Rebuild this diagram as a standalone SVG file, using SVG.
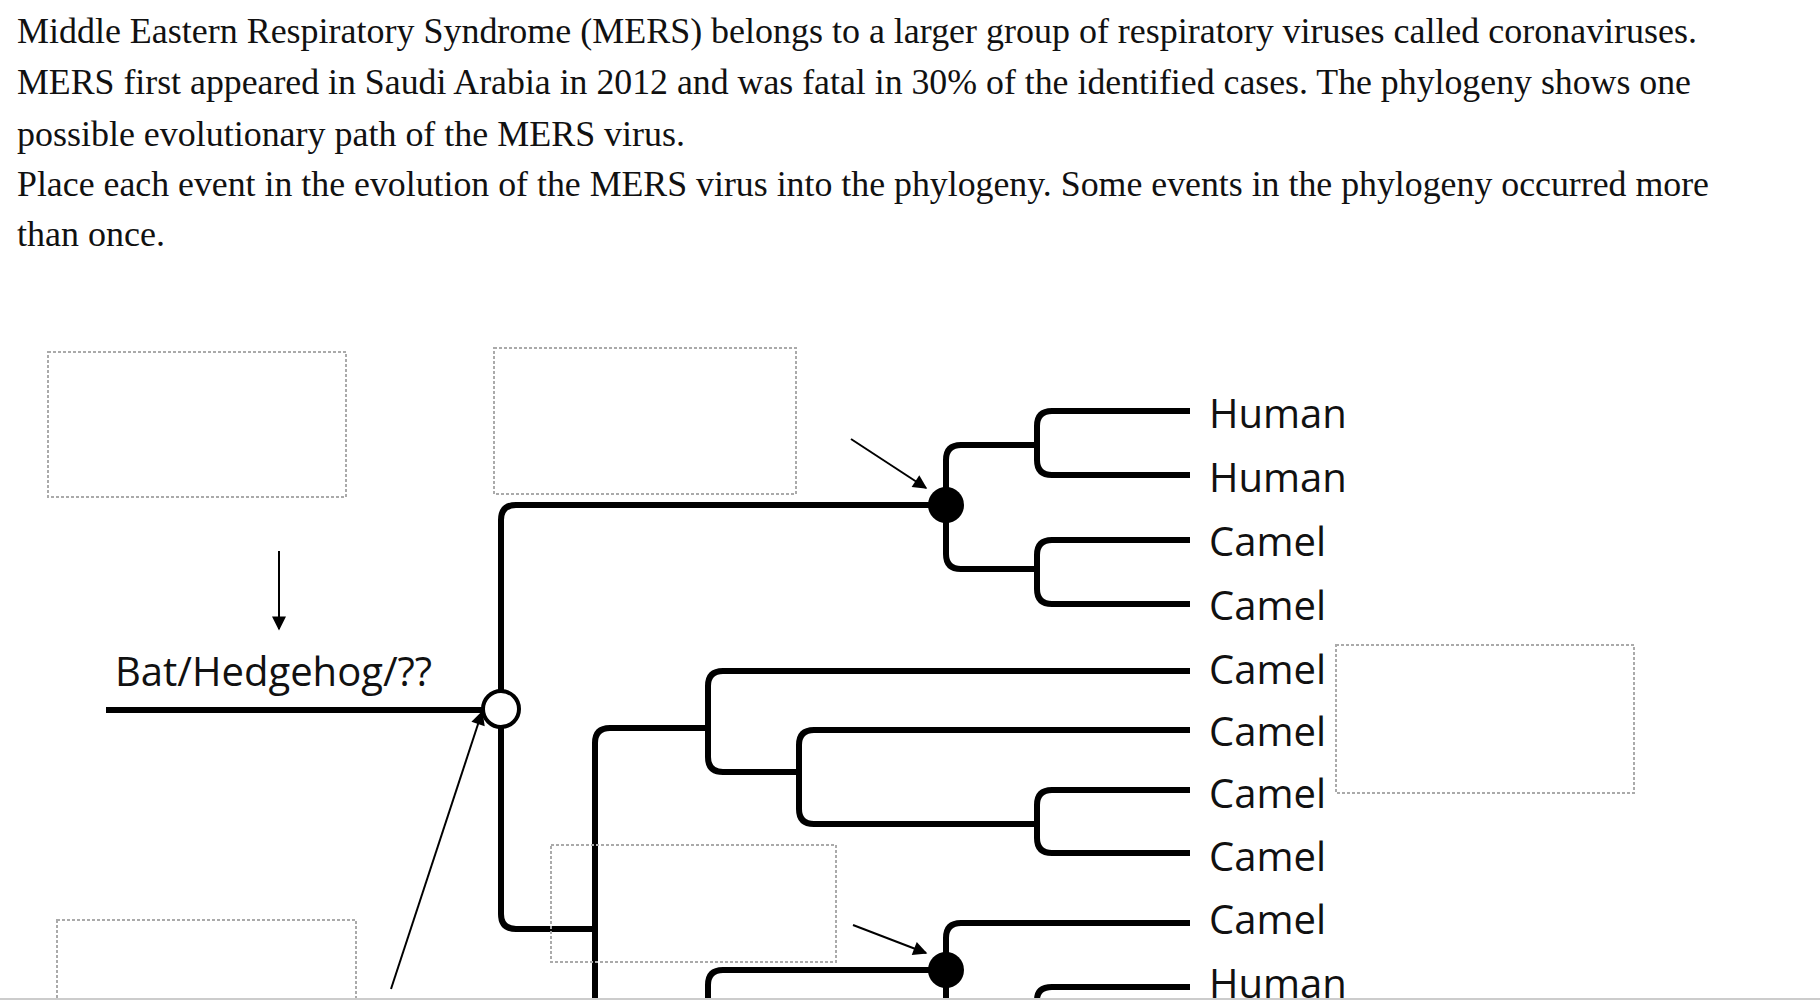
<svg xmlns="http://www.w3.org/2000/svg" width="1820" height="1000" viewBox="0 0 1820 1000">
<style>
.q{font-family:"Liberation Serif",serif;font-size:35px;fill:#111}
.l{font-family:"Open Sans","Noto Sans",sans-serif;font-size:40px;fill:#111}
.b{fill:none;stroke:#000;stroke-width:6;stroke-linejoin:round}
.d{fill:none;stroke:#aaa;stroke-width:2;stroke-dasharray:3 2}
.a{stroke:#000;stroke-width:2;marker-end:url(#ah)}
</style>
<defs><marker id="ah" viewBox="0 0 10 10" refX="9" refY="5" markerWidth="20" markerHeight="14" orient="auto" markerUnits="userSpaceOnUse"><path d="M0,0 L10,5 L0,10 z" fill="#000"/></marker></defs>
<rect width="1820" height="1000" fill="#fff"/>
<g id="question">
<text class="q" x="17" y="43" textLength="1680" lengthAdjust="spacingAndGlyphs">Middle Eastern Respiratory Syndrome (MERS) belongs to a larger group of respiratory viruses called coronaviruses.</text>
<text class="q" x="17" y="94" textLength="1674" lengthAdjust="spacingAndGlyphs">MERS first appeared in Saudi Arabia in 2012 and was fatal in 30% of the identified cases. The phylogeny shows one</text>
<text class="q" x="17" y="146" textLength="668" lengthAdjust="spacingAndGlyphs">possible evolutionary path of the MERS virus.</text>
<text class="q" x="17" y="196" textLength="1692" lengthAdjust="spacingAndGlyphs">Place each event in the evolution of the MERS virus into the phylogeny. Some events in the phylogeny occurred more</text>
<text class="q" x="17" y="246" textLength="148" lengthAdjust="spacingAndGlyphs">than once.</text>
</g>
<g id="connectors">
<path class="b" d="M106,710 H485"/>
<path class="b" d="M946,505 H516 Q501,505 501,520 V914 Q501,929 516,929 H595"/>
<path class="b" d="M1190,411 H1052 Q1037,411 1037,426 V460 Q1037,475 1052,475 H1190"/>
<path class="b" d="M1037,445 H961 Q946,445 946,460 V554 Q946,569 961,569 H1037"/>
<path class="b" d="M1190,540 H1052 Q1037,540 1037,555 V589 Q1037,604 1052,604 H1190"/>
<path class="b" d="M708,728 H610 Q595,728 595,743 V1000"/>
<path class="b" d="M1190,671 H723 Q708,671 708,686 V757 Q708,772 723,772 H799"/>
<path class="b" d="M1190,730 H814 Q799,730 799,745 V809 Q799,824 814,824 H1037"/>
<path class="b" d="M1190,790 H1052 Q1037,790 1037,805 V838 Q1037,853 1052,853 H1190"/>
<path class="b" d="M1190,923 H961 Q946,923 946,938 V1000"/>
<path class="b" d="M946,970 H723 Q708,970 708,985 V1000"/>
<path class="b" d="M1190,987 H1052 Q1037,987 1037,1000"/>
<line class="a" x1="279" y1="551" x2="279" y2="629"/>
<line class="a" x1="851" y1="439" x2="926" y2="488"/>
<line class="a" x1="391" y1="989" x2="482" y2="712"/>
<line class="a" x1="853" y1="925" x2="926" y2="953"/>
</g>
<g id="nodes">
<circle cx="501" cy="709" r="18" fill="#fff" stroke="#000" stroke-width="4"/>
<circle cx="946" cy="505" r="18" fill="#000"/>
<circle cx="946" cy="970" r="18" fill="#000"/>
</g>
<g id="labels">
<text class="l" x="115" y="686">Bat/Hedgehog/??</text>
<text class="l" x="1209" y="428">Human</text>
<text class="l" x="1209" y="492">Human</text>
<text class="l" x="1209" y="556">Camel</text>
<text class="l" x="1209" y="620">Camel</text>
<text class="l" x="1209" y="684">Camel</text>
<text class="l" x="1209" y="746">Camel</text>
<text class="l" x="1209" y="808">Camel</text>
<text class="l" x="1209" y="871">Camel</text>
<text class="l" x="1209" y="934">Camel</text>
<text class="l" x="1209" y="998">Human</text>
</g>
<g id="boxes">
<rect class="d" x="48" y="352" width="298" height="145"/>
<rect class="d" x="494" y="348" width="302" height="146"/>
<rect class="d" x="1336" y="645" width="298" height="148"/>
<rect class="d" x="551" y="845" width="285" height="117"/>
<rect class="d" x="57" y="920" width="299" height="90"/>
</g>
<line x1="0" y1="999" x2="1820" y2="999" stroke="#ccc" stroke-width="2"/>
</svg>
